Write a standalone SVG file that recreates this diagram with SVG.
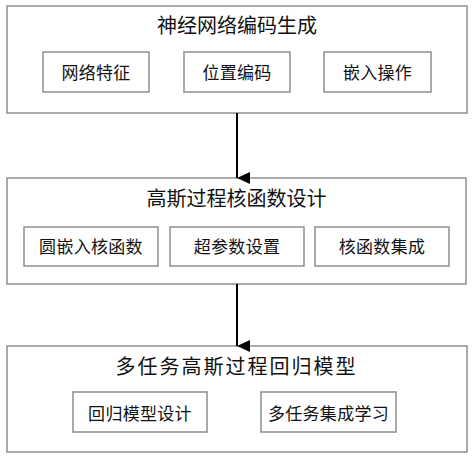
<svg xmlns="http://www.w3.org/2000/svg" width="474" height="459" viewBox="0 0 474 459">
<defs>
<style>
.box{fill:#fff;stroke:#8f8f8f;stroke-width:1.5}
.sub{fill:#fff;stroke:#8f8f8f;stroke-width:1.5}
.t{font-family:"Noto Sans CJK SC","Noto Sans",sans-serif;fill:#111;text-anchor:middle}
.title{font-size:20px}
.lbl{font-size:17px;letter-spacing:0.3px}
.conn{stroke:#000;stroke-width:2;fill:none}
</style>
<marker id="ah" markerWidth="12" markerHeight="13" refX="6" refY="13" orient="auto" markerUnits="userSpaceOnUse" viewBox="0 0 12 13">
<path d="M0,0 L12,0 L6,13 Z" fill="#000"/>
</marker>
</defs>
<rect width="474" height="459" fill="#fff"/>
<g id="node-nn">
<rect class="box" x="7" y="6" width="460" height="107"/>
<text class="t title" x="237" y="32.5">神经网络编码生成</text>
</g>
<g id="node-nn-feat">
<rect class="sub" x="43" y="52" width="106" height="40"/>
<text class="t lbl" x="96" y="78.5">网络特征</text>
</g>
<g id="node-nn-pos">
<rect class="sub" x="184" y="52" width="106" height="40"/>
<text class="t lbl" x="237" y="78.5">位置编码</text>
</g>
<g id="node-nn-embed">
<rect class="sub" x="324" y="52" width="107" height="40"/>
<text class="t lbl" x="377.5" y="78.5">嵌入操作</text>
</g>
<g id="node-gp">
<rect class="box" x="7" y="178" width="459" height="106"/>
<text class="t title" x="236.5" y="206">高斯过程核函数设计</text>
</g>
<g id="node-gp-circ">
<rect class="sub" x="24" y="227" width="134" height="39"/>
<text class="t lbl" x="91" y="252.5">圆嵌入核函数</text>
</g>
<g id="node-gp-hyper">
<rect class="sub" x="170" y="227" width="134" height="39"/>
<text class="t lbl" x="237" y="252.5">超参数设置</text>
</g>
<g id="node-gp-ens">
<rect class="sub" x="315" y="227" width="134" height="39"/>
<text class="t lbl" x="382" y="252.5">核函数集成</text>
</g>
<g id="node-mt">
<rect class="box" x="7" y="346" width="460" height="106"/>
<text class="t title" x="236.5" y="374" style="letter-spacing:2px">多任务高斯过程回归模型</text>
</g>
<g id="node-mt-reg">
<rect class="sub" x="73" y="392" width="134" height="40"/>
<text class="t lbl" x="140" y="419.5">回归模型设计</text>
</g>
<g id="node-mt-ens">
<rect class="sub" x="261" y="392" width="135" height="40"/>
<text class="t lbl" x="328.5" y="419.5">多任务集成学习</text>
</g>
<g id="connectors">
<line class="conn" x1="237" y1="113" x2="237" y2="178" marker-end="url(#ah)"/>
<line class="conn" x1="237" y1="284" x2="237" y2="346" marker-end="url(#ah)"/>
</g>
</svg>
